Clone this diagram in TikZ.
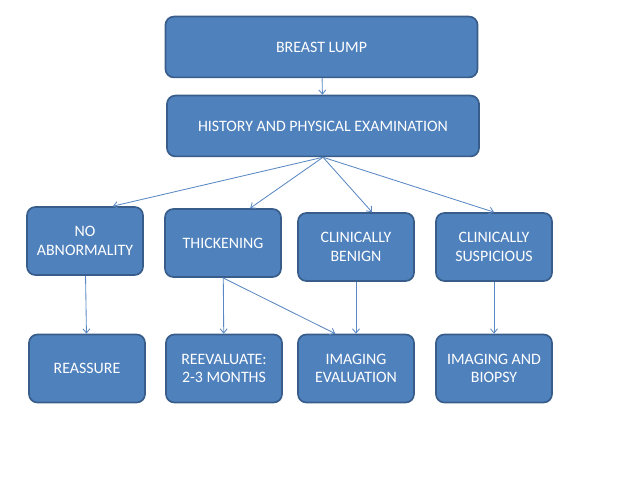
\documentclass[tikz,border=0pt]{standalone}
\usepackage{fontspec}
\setmainfont{Carlito}
\usepackage{xcolor}
\usetikzlibrary{arrows.meta,positioning}
\definecolor{boxblue}{HTML}{4F81BD}
\definecolor{boxline}{HTML}{385D8A}
\definecolor{arrowblue}{HTML}{5A88C4}

\begin{document}
\begin{tikzpicture}[
  x=0.025cm, y=-0.025cm,
  box/.style   = {rectangle, rounded corners=6pt, draw=boxline, fill=boxblue,
                  line width=1.2pt, text=white, align=center,
                  font=\fontsize{11.3}{13.2}\selectfont},
  wide/.style  = {box, minimum width=7.8cm, minimum height=1.52cm},
  small/.style = {box, minimum width=2.9cm, minimum height=1.7cm},
  arr/.style   = {-{Straight Barb[length=3pt,width=5pt]}, line width=0.6pt, arrowblue}
]
\useasboundingbox (0,0) rectangle (638,478);

%% Top of the chart
\node[wide] (lump) at (321.5, 47)  {BREAST LUMP};
\node[wide] (hist) at (323,  126)  {HISTORY AND PHYSICAL EXAMINATION};

%% Findings
\node[small] (noab)   at (85,  241) {NO\\ABNORMALITY};
\node[small] (thick)  at (223, 243) {THICKENING};
\node[small] (benign) at (356, 247) {CLINICALLY\\BENIGN};
\node[small] (susp)   at (494, 247) {CLINICALLY\\SUSPICIOUS};

%% Actions
\node[small] (reass)   at (87,  368.5) {REASSURE};
\node[small] (reeval)  at (224, 368.5) {REEVALUATE:\\2-3 MONTHS};
\node[small] (imgeval) at (356, 368.5) {IMAGING\\EVALUATION};
\node[small] (biopsy)  at (494, 368.5) {IMAGING AND\\BIOPSY};

%% Lump -> history
\draw[arr] (lump) -- (hist);

%% History -> findings
\draw[arr] (hist.south) -- ([xshift=0.7cm]noab.north);
\draw[arr] (hist.south) -- ([xshift=0.68cm]thick.north);
\draw[arr] (hist.south) -- ([xshift=0.4cm]benign.north);
\draw[arr] (hist.south) -- (susp.north);

%% Findings -> actions
\draw[arr] (noab)   -- (reass);
\draw[arr] (thick)  -- (reeval);
\draw[arr] (thick.south) -- ([xshift=-0.52cm]imgeval.north);
\draw[arr] (benign) -- (imgeval);
\draw[arr] (susp)   -- (biopsy);
\end{tikzpicture}
\end{document}
